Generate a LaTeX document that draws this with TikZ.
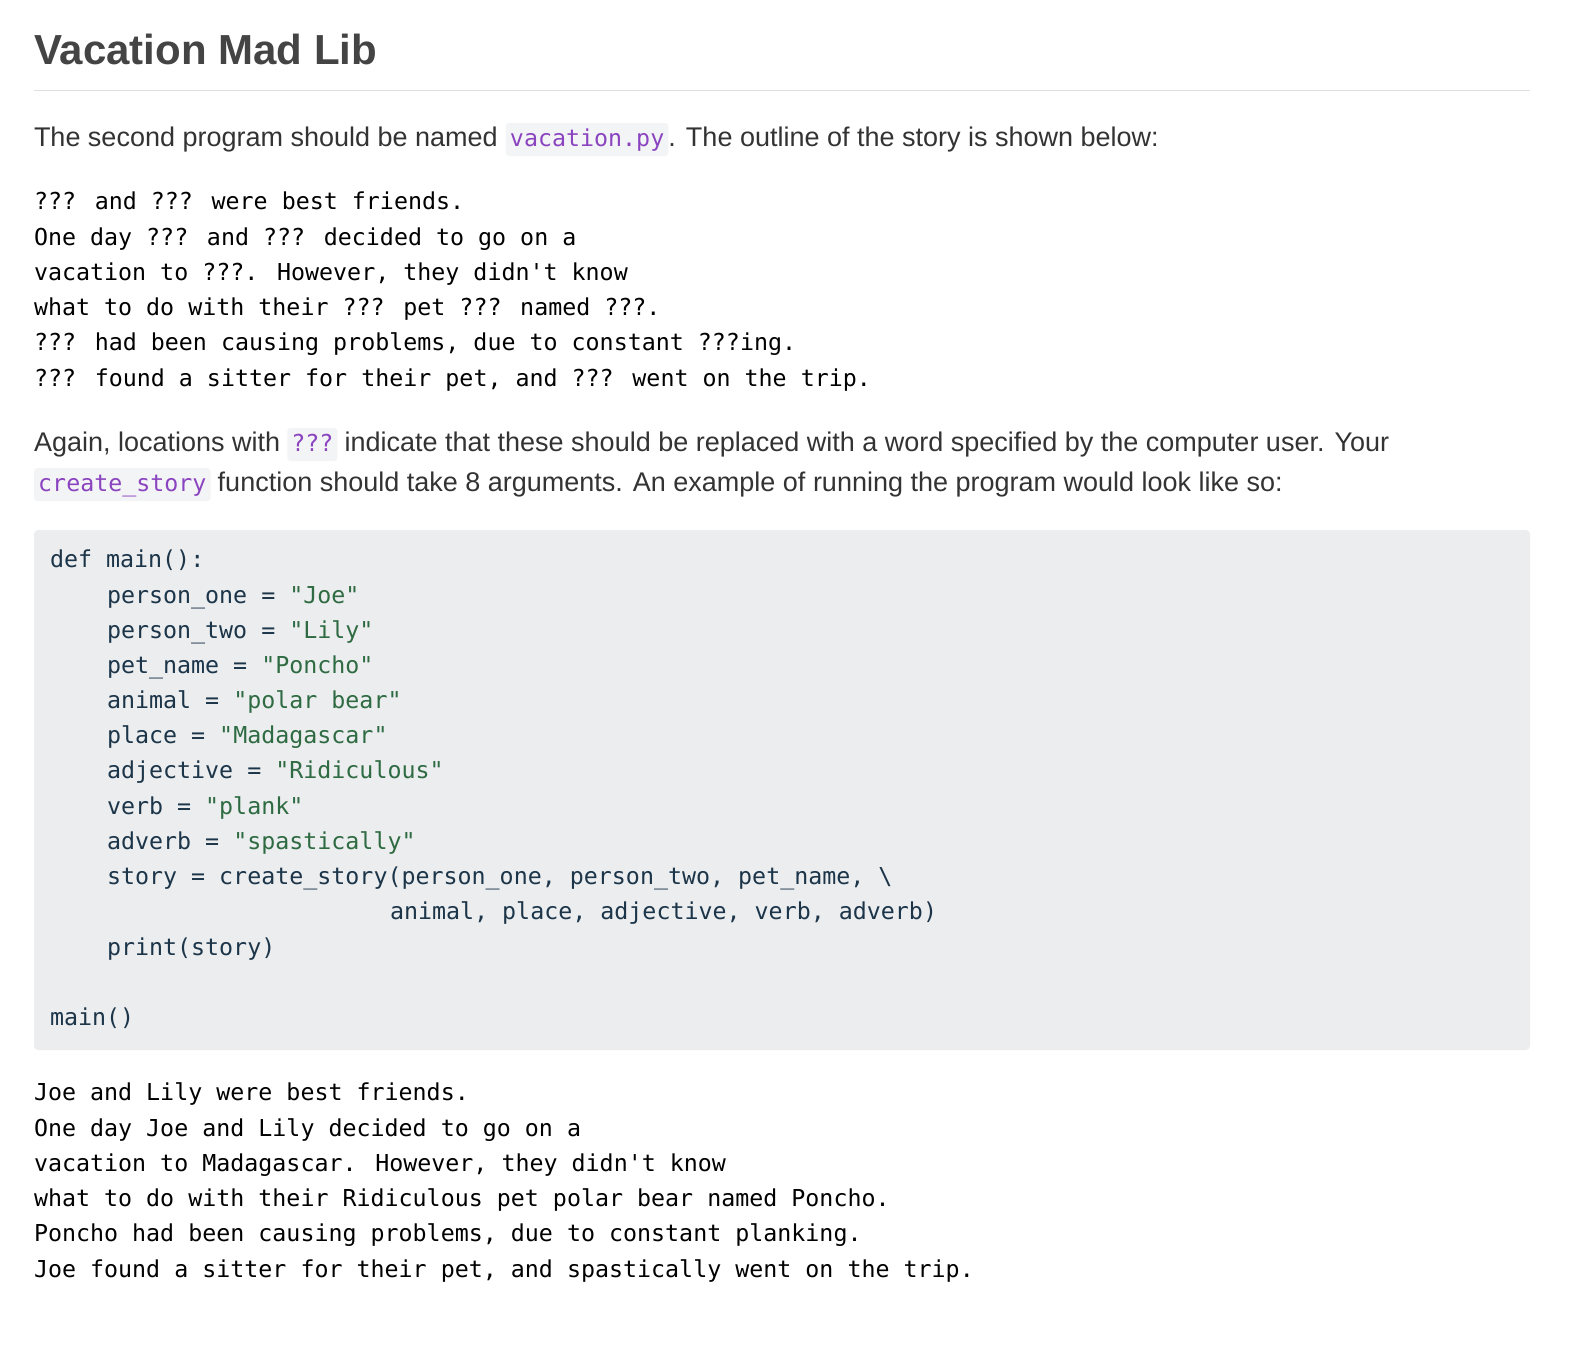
\documentclass[tikz,border=0pt]{standalone}
\usepackage{fontspec}
\setmainfont{Liberation Sans}
\newfontfamily\monof{DejaVu Sans Mono}
\definecolor{titlec}{HTML}{444444}
\definecolor{bodyc}{HTML}{333333}
\definecolor{purp}{HTML}{8B44C0}
\definecolor{codebg}{HTML}{EBEDEF}
\definecolor{inlbg}{HTML}{F3F4F5}
\definecolor{navy}{HTML}{1C3549}
\definecolor{strg}{HTML}{2F6B42}
\newcommand{\Sg}[1]{\textcolor{strg}{#1}}
\tikzset{
 ln/.style={anchor=base west,inner sep=0pt,outer sep=0pt},
 body/.style={ln,font=\fontsize{27}{31}\selectfont,text=bodyc},
 mono/.style={ln,font=\monof\fontsize{23.3}{28}\selectfont,text=black},
 code/.style={ln,font=\monof\fontsize{23.3}{28}\selectfont,text=navy},
 inl/.style={anchor=base west,inner xsep=4pt,inner ysep=3pt,text height=20pt,text depth=7pt,fill=inlbg,rounded corners=3pt,text=purp,font=\monof\fontsize{23.3}{28}\selectfont}
}
\begin{document}
\begin{tikzpicture}[x=1pt,y=-1pt]
\useasboundingbox (0,0) rectangle (1590,1354);
\fill[white] (0,0) rectangle (1590,1354);
\node[ln,font=\bfseries\fontsize{42}{48}\selectfont,text=titlec] (title) at (34,65) {Vacation Mad Lib};
\draw[gray!25,line width=1pt] (34,90) -- (1530,90);
% para 1
\node[body] (p1a) at (34,146) {The second program should be named};
\node[inl] (vpy) at ([xshift=8pt]p1a.base east) {vacation.py};
\node[body] (p1b) at (vpy.base east) {. The outline of the story is shown below:};
% story
\node[mono] (s1) at (34,209) {??? and ??? were best friends.};
\node[mono] (s2) at (34,245) {One day ??? and ??? decided to go on a};
\node[mono] (s3) at (34,280) {vacation to ???. However, they didn't know};
\node[mono] (s4) at (34,315) {what to do with their ??? pet ??? named ???.};
\node[mono] (s5) at (34,350) {??? had been causing problems, due to constant ???ing.};
\node[mono] (s6) at (34,386) {??? found a sitter for their pet, and ??? went on the trip.};
% para 2
\node[body] (p2a) at (34,451) {Again, locations with};
\node[inl] (qq) at ([xshift=7pt]p2a.base east) {???};
\node[body] (p2b) at ([xshift=7pt]qq.base east) {indicate that these should be replaced with a word specified by the computer user. Your};
\node[inl] (cs) at (34,491) {create\_story};
\node[body] (p2c) at ([xshift=7pt]cs.base east) {function should take 8 arguments. An example of running the program would look like so:};
% code block
\fill[codebg,rounded corners=4pt] (34,530) rectangle (1530,1050);
\node[code] (c1) at (50,567) {def main():};
\node[code] (c2) at (107,603) {person\_one = \Sg{"Joe"}};
\node[code] (c3) at (107,638) {person\_two = \Sg{"Lily"}};
\node[code] (c4) at (107,673) {pet\_name = \Sg{"Poncho"}};
\node[code] (c5) at (107,708) {animal = \Sg{"polar bear"}};
\node[code] (c6) at (107,743) {place = \Sg{"Madagascar"}};
\node[code] (c7) at (107,778) {adjective = \Sg{"Ridiculous"}};
\node[code] (c8) at (107,814) {verb = \Sg{"plank"}};
\node[code] (c9) at (107,849) {adverb = \Sg{"spastically"}};
\node[code] (c10) at (107,884) {story = create\_story(person\_one, person\_two, pet\_name, \textbackslash};
\node[code] (c11) at (390,919) {animal, place, adjective, verb, adverb)};
\node[code] (c12) at (107,955) {print(story)};
\node[code] (c13) at (50,1025) {main()};
% output
\node[mono] (o1) at (34,1100) {Joe and Lily were best friends.};
\node[mono] (o2) at (34,1136) {One day Joe and Lily decided to go on a};
\node[mono] (o3) at (34,1171) {vacation to Madagascar. However, they didn't know};
\node[mono] (o4) at (34,1206) {what to do with their Ridiculous pet polar bear named Poncho.};
\node[mono] (o5) at (34,1241) {Poncho had been causing problems, due to constant planking.};
\node[mono] (o6) at (34,1277) {Joe found a sitter for their pet, and spastically went on the trip.};
\end{tikzpicture}
\end{document}
